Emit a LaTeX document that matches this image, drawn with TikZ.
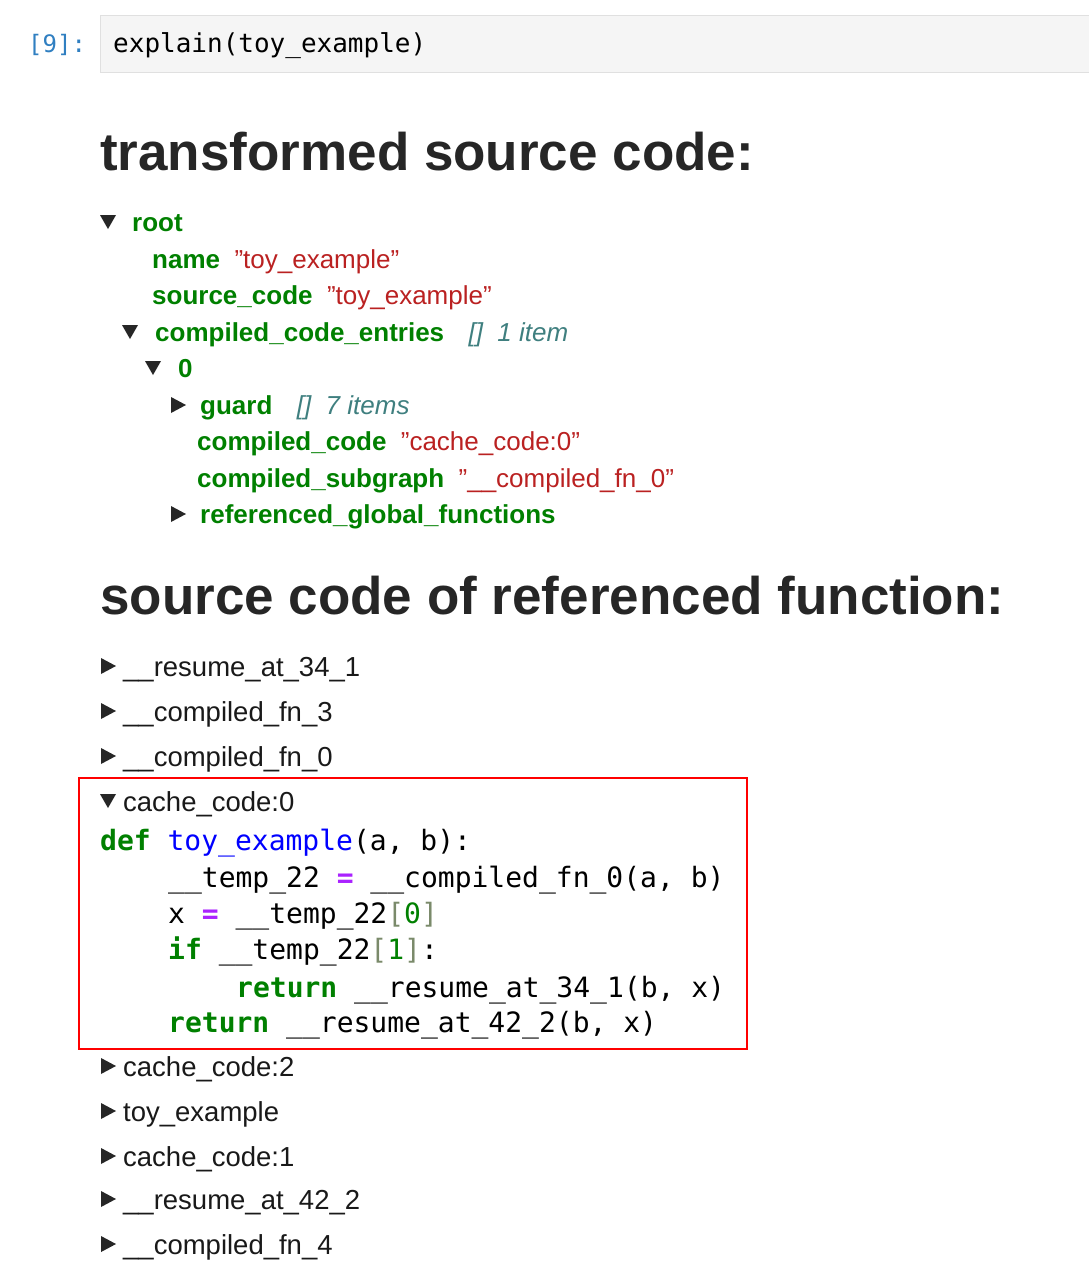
\documentclass[tikz,border=0pt]{standalone}
\usepackage{fontspec}
\setmainfont{Liberation Sans}
\setmonofont{DejaVu Sans Mono}
\definecolor{kgreen}{HTML}{008000}
\definecolor{kred}{HTML}{BA2121}
\definecolor{kteal}{HTML}{3F7F7F}
\definecolor{kblue}{HTML}{0000FF}
\definecolor{kpurple}{HTML}{AA22FF}
\definecolor{kbr}{HTML}{7A8A6A}
\definecolor{pblue}{HTML}{307FC1}
\definecolor{boxbg}{HTML}{F5F5F5}
\definecolor{boxline}{HTML}{E0E0E0}
\tikzset{
 tx/.style={anchor=base west,inner sep=0pt,font=\fontsize{26}{30}\selectfont},
 key/.style={tx,text=kgreen,font=\fontsize{26}{30}\selectfont\bfseries},
 str/.style={tx,text=kred},
 meta/.style={tx,text=kteal,font=\fontsize{26}{30}\selectfont\itshape},
 head/.style={anchor=base west,inner sep=0pt,font=\fontsize{53}{60}\selectfont\bfseries,text=black!85},
 item/.style={anchor=base west,inner sep=0pt,font=\fontsize{27.5}{30}\selectfont,text=black!90},
 code/.style={anchor=base west,inner sep=0pt,font=\fontsize{28}{32}\selectfont\ttfamily},
 down/.pic={\fill[black!85] (-8,-7)--(8,-7)--(0,7)--cycle;},
 right/.pic={\fill[black!85] (-7,-8)--(-7,8)--(8,0)--cycle;}
}
\newcommand{\kw}[1]{\textcolor{kgreen}{\bfseries #1}}
\newcommand{\q}{\char34\relax}
\begin{document}
\begin{tikzpicture}[x=1pt,y=-1pt]
\useasboundingbox (0,0) rectangle (1088,1288);
\node[anchor=base west,inner sep=0pt,font=\fontsize{24}{28}\selectfont\ttfamily,text=pblue] (prompt) at (28,52) {[9]:};
\draw[fill=boxbg,draw=boxline] (100,15) rectangle (1100,72);
\node[anchor=base west,inner sep=0pt,font=\fontsize{26}{30}\selectfont\ttfamily] (inp) at (113,52) {explain(toy\_example)};
\node[head] (h1) at (100,170) {transformed source code:};
\pic at (108,222) {down};
\node[key] (root) at (132,231) {root};
\node[key] (name) at (152,268) {name};
\node[str] (namev) at ([xshift=14pt]name.base east) {\q toy\_example\q};
\node[key] (sc) at (152,304) {source\_code};
\node[str] (scv) at ([xshift=14pt]sc.base east) {\q toy\_example\q};
\pic at (130,332) {down};
\node[key] (cce) at (155,341) {compiled\_code\_entries};
\node[meta] (ccem) at ([xshift=24pt]cce.base east) {[]\ \ 1 item};
\pic at (153,368) {down};
\node[key] (zero) at (178,377) {0};
\pic at (178,405) {right};
\node[key] (guard) at (200,414) {guard};
\node[meta] (guardm) at ([xshift=24pt]guard.base east) {[]\ \ 7 items};
\node[key] (cc) at (197,450) {compiled\_code};
\node[str] (ccv) at ([xshift=14pt]cc.base east) {\q cache\_code:0\q};
\node[key] (cs) at (197,487) {compiled\_subgraph};
\node[str] (csv) at ([xshift=14pt]cs.base east) {\q\_\_compiled\_fn\_0\q};
\pic at (178,514) {right};
\node[key] (rgf) at (200,523) {referenced\_global\_functions};
\node[head] (h2) at (100,614) {source code of referenced function:};
\pic at (108,666) {right};
\node[item] (l1) at (123,676) {\_\_resume\_at\_34\_1};
\pic at (108,711) {right};
\node[item] (l2) at (123,721) {\_\_compiled\_fn\_3};
\pic at (108,756) {right};
\node[item] (l3) at (123,766) {\_\_compiled\_fn\_0};
\pic at (108,801) {down};
\node[item] (l4) at (123,811) {cache\_code:0};
\node[code] (c1) at (100,850) {\kw{def} \textcolor{kblue}{toy\_example}(a, b):};
\node[code] (c2) at (168,887) {\_\_temp\_22 \textcolor{kpurple}{\bfseries=} \_\_compiled\_fn\_0(a, b)};
\node[code] (c3) at (168,923) {x \textcolor{kpurple}{\bfseries=} \_\_temp\_22\textcolor{kbr}{[}\textcolor{kgreen}{0}\textcolor{kbr}{]}};
\node[code] (c4) at (168,959) {\kw{if} \_\_temp\_22\textcolor{kbr}{[}\textcolor{kgreen}{1}\textcolor{kbr}{]}:};
\node[code] (c5) at (236,997) {\kw{return} \_\_resume\_at\_34\_1(b, x)};
\node[code] (c6) at (168,1032) {\kw{return} \_\_resume\_at\_42\_2(b, x)};
\draw[red,line width=2.5pt] (79,778) rectangle (747,1049);
\pic at (108,1066) {right};
\node[item] (l5) at (123,1076) {cache\_code:2};
\pic at (108,1111) {right};
\node[item] (l6) at (123,1121) {toy\_example};
\pic at (108,1156) {right};
\node[item] (l7) at (123,1166) {cache\_code:1};
\pic at (108,1199) {right};
\node[item] (l8) at (123,1209) {\_\_resume\_at\_42\_2};
\pic at (108,1244) {right};
\node[item] (l9) at (123,1254) {\_\_compiled\_fn\_4};
\end{tikzpicture}
\end{document}
